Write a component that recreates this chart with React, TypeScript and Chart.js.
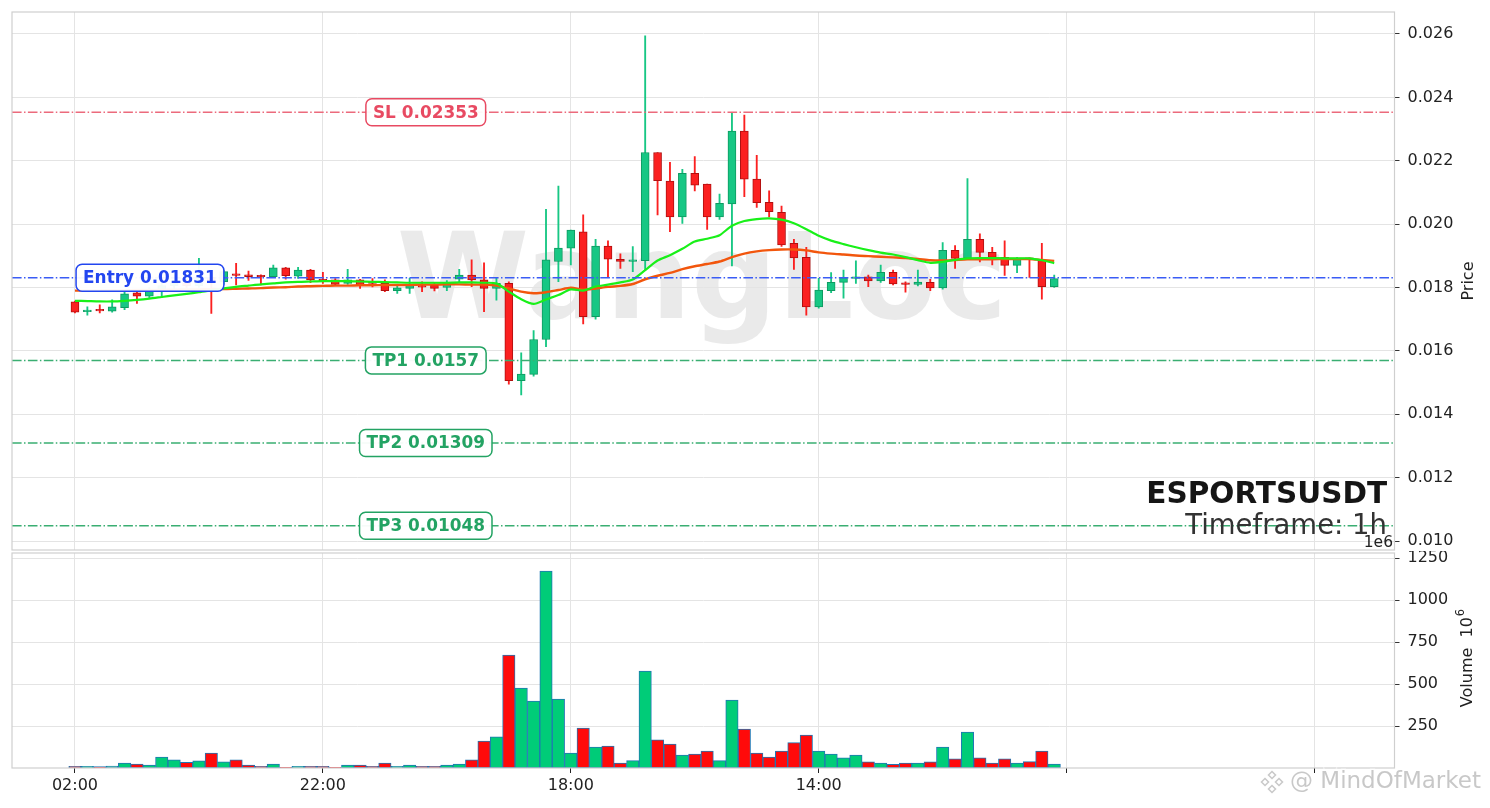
import { useEffect, useRef } from 'react';
import { Chart, registerables } from 'chart.js';

Chart.register(...registerables);

// ---------------- data ----------------
const hourLabels = ['02:00', '22:00', '18:00', '14:00', '', ''];
const hourTickIndex = [0, 20, 40, 60, 80, 100];

const opens = [
  0.01755, 0.01724, 0.01728, 0.01725, 0.01736, 0.01783, 0.01773, 0.01792, 0.01806, 0.01815,
  0.01806, 0.01832, 0.01818, 0.01840, 0.01840, 0.01837, 0.01834, 0.01862, 0.01836, 0.01855,
  0.01824, 0.01824, 0.01813, 0.01824, 0.01818, 0.01813, 0.01790, 0.01797, 0.01805, 0.01808,
  0.01800, 0.01826, 0.01839, 0.01824, 0.01797, 0.01813, 0.01506, 0.01526, 0.01636, 0.01882,
  0.01924, 0.01976, 0.01708, 0.01931, 0.01889, 0.01882, 0.01885, 0.02226, 0.02136, 0.02023,
  0.02160, 0.02126, 0.02023, 0.02064, 0.02294, 0.02142, 0.02069, 0.02037, 0.01939, 0.01895,
  0.01739, 0.01790, 0.01816, 0.01829, 0.01834, 0.01821, 0.01848, 0.01813, 0.01810, 0.01816,
  0.01799, 0.01917, 0.01892, 0.01952, 0.01911, 0.01895, 0.01870, 0.01892, 0.01887, 0.01803,
];
const highs = [
  0.01757, 0.01739, 0.01745, 0.01761, 0.01790, 0.01792, 0.01800, 0.01812, 0.01822, 0.01826,
  0.01892, 0.01842, 0.01855, 0.01876, 0.01852, 0.01840, 0.01871, 0.01864, 0.01864, 0.01857,
  0.01848, 0.01828, 0.01857, 0.01826, 0.01828, 0.01824, 0.01808, 0.01829, 0.01818, 0.01816,
  0.01822, 0.01857, 0.01887, 0.01878, 0.01832, 0.01818, 0.01594, 0.01664, 0.02047, 0.02120,
  0.01981, 0.02029, 0.01952, 0.01947, 0.01906, 0.01929, 0.02594, 0.02226, 0.02195, 0.02173,
  0.02213, 0.02126, 0.02095, 0.02350, 0.02344, 0.02217, 0.02105, 0.02057, 0.01952, 0.01927,
  0.01829, 0.01847, 0.01855, 0.01884, 0.01839, 0.01871, 0.01855, 0.01818, 0.01855, 0.01826,
  0.01942, 0.01932, 0.02144, 0.01969, 0.01927, 0.01947, 0.01895, 0.01894, 0.01939, 0.01839,
];
const lows = [
  0.01720, 0.01713, 0.01720, 0.01722, 0.01730, 0.01750, 0.01766, 0.01768, 0.01796, 0.01800,
  0.01800, 0.01718, 0.01810, 0.01808, 0.01822, 0.01808, 0.01832, 0.01826, 0.01829, 0.01815,
  0.01813, 0.01808, 0.01810, 0.01797, 0.01802, 0.01787, 0.01781, 0.01781, 0.01787, 0.01789,
  0.01790, 0.01818, 0.01803, 0.01724, 0.01760, 0.01495, 0.01461, 0.01520, 0.01613, 0.01818,
  0.01871, 0.01685, 0.01700, 0.01832, 0.01860, 0.01850, 0.01853, 0.02029, 0.01976, 0.02002,
  0.02105, 0.01983, 0.02015, 0.01868, 0.02087, 0.02053, 0.02023, 0.01930, 0.01857, 0.01713,
  0.01735, 0.01784, 0.01766, 0.01813, 0.01803, 0.01816, 0.01808, 0.01785, 0.01805, 0.01790,
  0.01795, 0.01860, 0.01890, 0.01881, 0.01871, 0.01838, 0.01847, 0.01832, 0.01763, 0.01800,
];
const closes = [
  0.01722, 0.01728, 0.01726, 0.01739, 0.01780, 0.01773, 0.01792, 0.01806, 0.01815, 0.01806,
  0.01832, 0.01818, 0.01850, 0.01838, 0.01834, 0.01834, 0.01862, 0.01837, 0.01855, 0.01824,
  0.01821, 0.01810, 0.01824, 0.01808, 0.01813, 0.01790, 0.01799, 0.01808, 0.01801, 0.01797,
  0.01815, 0.01839, 0.01824, 0.01797, 0.01813, 0.01506, 0.01527, 0.01636, 0.01887, 0.01924,
  0.01981, 0.01708, 0.01931, 0.01889, 0.01882, 0.01887, 0.02226, 0.02137, 0.02023, 0.02160,
  0.02123, 0.02023, 0.02066, 0.02294, 0.02142, 0.02068, 0.02039, 0.01934, 0.01893, 0.01739,
  0.01792, 0.01816, 0.01831, 0.01834, 0.01821, 0.01848, 0.01811, 0.01810, 0.01817, 0.01799,
  0.01917, 0.01892, 0.01952, 0.01911, 0.01895, 0.01870, 0.01892, 0.01889, 0.01803, 0.01828,
];
// volume in millions
const volumes = [
  10, 10, 8, 12, 30, 24, 18, 65, 48, 34,
  42, 89, 36, 48, 18, 10, 24, 4, 10, 10,
  10, 4, 18, 18, 10, 30, 10, 18, 10, 10,
  18, 24, 48, 161, 185, 673, 476, 399, 1173, 411,
  89, 238, 125, 131, 30, 44, 577, 167, 143, 77,
  83, 101, 44, 405, 232, 89, 65, 101, 151, 196,
  101, 83, 60, 77, 36, 30, 22, 30, 30, 36,
  125, 54, 214, 60, 30, 54, 30, 38, 101, 24,
];
const maFast = [
  0.01758, 0.01757, 0.01756, 0.01756, 0.01758, 0.01761, 0.01765, 0.01770, 0.01775, 0.01780,
  0.01785, 0.01791, 0.01797, 0.01802, 0.01806, 0.01810, 0.01813, 0.01816, 0.01818, 0.01819,
  0.01820, 0.01820, 0.01820, 0.01819, 0.01818, 0.01817, 0.01816, 0.01815, 0.01815, 0.01815,
  0.01815, 0.01816, 0.01816, 0.01815, 0.01813, 0.01787, 0.01763, 0.01748, 0.01762, 0.01776,
  0.01794, 0.01790, 0.01803, 0.01809, 0.01816, 0.01825, 0.01855, 0.01885, 0.01902, 0.01922,
  0.01945, 0.01954, 0.01965, 0.01995, 0.02010, 0.02016, 0.02018, 0.02014, 0.02003, 0.01984,
  0.01963, 0.01948, 0.01937, 0.01927, 0.01918, 0.01910, 0.01904, 0.01896, 0.01886, 0.01878,
  0.01881, 0.01887, 0.01892, 0.01893, 0.01893, 0.01892, 0.01892, 0.01892, 0.01886, 0.01877,
];
const maSlow = [
  0.01790, 0.01790, 0.01790, 0.01791, 0.01791, 0.01792, 0.01792, 0.01793, 0.01793, 0.01794,
  0.01794, 0.01795, 0.01795, 0.01796, 0.01797, 0.01798, 0.01800, 0.01801, 0.01803, 0.01804,
  0.01805, 0.01806, 0.01806, 0.01807, 0.01807, 0.01808, 0.01808, 0.01808, 0.01809, 0.01809,
  0.01810, 0.01810, 0.01809, 0.01809, 0.01806, 0.01797, 0.01787, 0.01782, 0.01785, 0.01792,
  0.01799, 0.01793, 0.01797, 0.01802, 0.01805, 0.01811, 0.01826, 0.01837, 0.01846, 0.01858,
  0.01867, 0.01874, 0.01882, 0.01896, 0.01907, 0.01914, 0.01918, 0.01920, 0.01920, 0.01917,
  0.01911, 0.01907, 0.01904, 0.01901, 0.01899, 0.01897, 0.01895, 0.01893, 0.01890, 0.01886,
  0.01885, 0.01887, 0.01889, 0.01889, 0.01889, 0.01890, 0.01890, 0.01890, 0.01887, 0.01884,
];
const priceTicks = [0.010, 0.012, 0.014, 0.016, 0.018, 0.020, 0.022, 0.024, 0.026];
const volumeTicks = [250, 500, 750, 1000, 1250];
const levelValues = [0.02353, 0.01831, 0.0157, 0.01309, 0.01048];
const levelTexts = ['SL 0.02353', 'Entry 0.01831', 'TP1 0.0157', 'TP2 0.01309', 'TP3 0.01048'];
const levelLabelAt = [28.3, 6.05, 28.3, 28.3, 28.3];
const symbolText = 'ESPORTSUSDT';
const timeframeText = 'Timeframe: 1h';

// ---------------- style ----------------
const FONT = "'DejaVu Sans', sans-serif";
const X_MIN = -5.08;
const X_MAX = 106.45;
const Y_MIN = 0.009716;
const Y_MAX = 0.026694;
const V_MAX = 1280;
const AXIS_W = 95.5;
const GRID = '#e4e4e4';
const FRAME = '#cfcfcf';
const UP = '#17c784';
const UP_EDGE = '#0e9a61';
const DOWN = '#fb2020';
const DOWN_EDGE = '#b01010';
const VOL_UP = '#00cc78';
const VOL_DOWN = '#ff0a0a';
const VOL_EDGE = '#1f77b4';
const levelColors = ['#e84a62', '#2346f0', '#23a363', '#23a363', '#23a363'];
const levelLineColors = ['#ec6a7c', '#3a5cf5', '#3aae72', '#3aae72', '#3aae72'];

const isUp = (i: number) => closes[i] >= opens[i];

function xAxis(withLabels: boolean, height: number) {
  return {
    type: 'linear',
    min: X_MIN,
    max: X_MAX,
    offset: false,
    bounds: 'data',
    afterBuildTicks: (s: any) => {
      s.ticks = hourTickIndex.map((v) => ({ value: v }));
    },
    afterFit: (s: any) => {
      s.height = height;
      s.paddingLeft = 0;
      s.paddingRight = 0;
    },
    grid: { offset: false, color: GRID, lineWidth: 1, drawTicks: withLabels, tickLength: 5, tickColor: '#222' },
    border: { display: false },
    ticks: {
      display: withLabels,
      autoSkip: false,
      maxRotation: 0,
      padding: 3,
      color: '#222',
      font: { family: FONT, size: 16 },
      callback: (v: any) => {
        const k = hourTickIndex.indexOf(Number(v));
        return k >= 0 ? hourLabels[k] : '';
      },
    },
  };
}

function roundRect(ctx: CanvasRenderingContext2D, x: number, y: number, w: number, h: number, r: number) {
  ctx.beginPath();
  ctx.moveTo(x + r, y);
  ctx.lineTo(x + w - r, y);
  ctx.arcTo(x + w, y, x + w, y + r, r);
  ctx.lineTo(x + w, y + h - r);
  ctx.arcTo(x + w, y + h, x + w - r, y + h, r);
  ctx.lineTo(x + r, y + h);
  ctx.arcTo(x, y + h, x, y + h - r, r);
  ctx.lineTo(x, y + r);
  ctx.arcTo(x, y, x + r, y, r);
  ctx.closePath();
}

function drawFrame(chart: any) {
  const { ctx, chartArea: a } = chart;
  ctx.save();
  ctx.strokeStyle = FRAME;
  ctx.lineWidth = 1.2;
  ctx.strokeRect(a.left, a.top, a.right - a.left, a.bottom - a.top);
  ctx.restore();
}

const pricePlugin = {
  id: 'pricePlugin',
  beforeDraw(chart: any) {
    const { ctx } = chart;
    ctx.save();
    ctx.fillStyle = 'rgba(200,200,200,0.38)';
    ctx.font = `bold 120px ${FONT}`;
    ctx.textAlign = 'center';
    ctx.textBaseline = 'alphabetic';
    ctx.fillText('WangLoc', 702, 318);
    ctx.restore();
  },
  afterDatasetsDraw(chart: any) {
    const { ctx, chartArea: a, scales } = chart;
    const xs = scales.x;
    const ys = scales.y;
    ctx.save();
    ctx.beginPath();
    ctx.rect(a.left, a.top, a.right - a.left, a.bottom - a.top);
    ctx.clip();
    levelValues.forEach((v, k) => {
      const y = ys.getPixelForValue(v);
      ctx.strokeStyle = levelLineColors[k];
      ctx.lineWidth = 1.5;
      ctx.setLineDash([9.6, 2.4, 1.5, 2.4]);
      ctx.beginPath();
      ctx.moveTo(a.left, y);
      ctx.lineTo(a.right, y);
      ctx.stroke();
    });
    ctx.setLineDash([]);
    ctx.font = `bold 16.9px ${FONT}`;
    ctx.textAlign = 'center';
    ctx.textBaseline = 'middle';
    levelValues.forEach((v, k) => {
      const y = ys.getPixelForValue(v);
      const x = xs.getPixelForValue(levelLabelAt[k]);
      const w = ctx.measureText(levelTexts[k]).width + 14;
      const h = 27;
      roundRect(ctx, x - w / 2, y - h / 2, w, h, 6);
      ctx.fillStyle = 'rgba(255,255,255,0.95)';
      ctx.fill();
      ctx.strokeStyle = levelColors[k];
      ctx.lineWidth = 1.5;
      ctx.stroke();
      ctx.fillStyle = levelColors[k];
      ctx.fillText(levelTexts[k], x, y + 1);
    });
    ctx.textAlign = 'right';
    ctx.textBaseline = 'alphabetic';
    ctx.fillStyle = '#151515';
    ctx.font = `bold 29.5px ${FONT}`;
    ctx.fillText(symbolText, 1387, 503);
    ctx.fillStyle = '#333333';
    ctx.font = `27.5px ${FONT}`;
    ctx.fillText(timeframeText, 1387, 534);
    ctx.restore();

    drawFrame(chart);

    ctx.save();
    ctx.fillStyle = '#222';
    ctx.font = `15.5px ${FONT}`;
    ctx.textAlign = 'right';
    ctx.textBaseline = 'alphabetic';
    ctx.fillText('1e6', 1393, 547);
    ctx.translate(1469, (a.top + a.bottom) / 2);
    ctx.rotate(-Math.PI / 2);
    ctx.textAlign = 'center';
    ctx.textBaseline = 'middle';
    ctx.font = `16px ${FONT}`;
    ctx.fillText('Price', 0, 0);
    ctx.restore();
  },
};

const volumePlugin = {
  id: 'volumePlugin',
  afterDatasetsDraw(chart: any) {
    const { ctx, chartArea: a } = chart;
    drawFrame(chart);
    ctx.save();
    ctx.fillStyle = '#222';
    ctx.translate(1468, (a.top + a.bottom) / 2 - 2);
    ctx.rotate(-Math.PI / 2);
    ctx.textBaseline = 'middle';
    ctx.font = `16px ${FONT}`;
    const t1 = 'Volume  10';
    const w1 = ctx.measureText(t1).width;
    ctx.font = `11.5px ${FONT}`;
    const w2 = ctx.measureText('6').width;
    const start = -(w1 + w2) / 2;
    ctx.font = `16px ${FONT}`;
    ctx.textAlign = 'left';
    ctx.fillText(t1, start, 0);
    ctx.font = `11.5px ${FONT}`;
    ctx.fillText('6', start + w1 + 1, -7);
    ctx.restore();

    ctx.save();
    const cy = 231;
    ctx.globalAlpha = 0.55;
    ctx.strokeStyle = '#9a9a9a';
    ctx.lineWidth = 1.5;
    const lx = 1272;
    const d = 7;
    [[0, -d], [-d, 0], [d, 0], [0, d]].forEach(([dx, dy]) => {
      ctx.beginPath();
      ctx.moveTo(lx + dx, cy + dy - 3.5);
      ctx.lineTo(lx + dx + 3.5, cy + dy);
      ctx.lineTo(lx + dx, cy + dy + 3.5);
      ctx.lineTo(lx + dx - 3.5, cy + dy);
      ctx.closePath();
      ctx.stroke();
    });
    ctx.font = `23px ${FONT}`;
    ctx.textAlign = 'left';
    ctx.textBaseline = 'middle';
    ctx.lineWidth = 3;
    ctx.strokeStyle = 'rgba(255,255,255,0.9)';
    ctx.strokeText('@ MindOfMarket', 1290, cy);
    ctx.fillStyle = '#9a9a9a';
    ctx.fillText('@ MindOfMarket', 1290, cy);
    ctx.restore();
  },
};

export default function App() {
  const priceRef = useRef<HTMLCanvasElement>(null);
  const volRef = useRef<HTMLCanvasElement>(null);

  useEffect(() => {
    const idx = closes.map((_, i) => i);
    const priceChart = new Chart(priceRef.current as HTMLCanvasElement, {
      type: 'bar',
      data: {
        datasets: [
          {
            type: 'line',
            data: idx.map((i) => ({ x: i, y: maFast[i] })),
            borderColor: '#19f019',
            borderWidth: 2.2,
            pointRadius: 0,
            tension: 0.25,
            order: 0,
          } as any,
          {
            type: 'line',
            data: idx.map((i) => ({ x: i, y: maSlow[i] })),
            borderColor: '#f2560d',
            borderWidth: 2.4,
            pointRadius: 0,
            tension: 0.25,
            order: 0,
          } as any,
          {
            type: 'bar',
            data: idx.map((i) => ({ x: i, y: [opens[i], closes[i]] })),
            backgroundColor: idx.map((i) => (isUp(i) ? UP : DOWN)),
            borderColor: idx.map((i) => (isUp(i) ? UP_EDGE : DOWN_EDGE)),
            borderWidth: 1,
            borderSkipped: false,
            barThickness: 8,
            minBarLength: 1.5,
            grouped: false,
            order: 1,
          } as any,
          {
            type: 'bar',
            data: idx.map((i) => ({ x: i, y: [lows[i], highs[i]] })),
            backgroundColor: idx.map((i) => (isUp(i) ? UP : DOWN)),
            borderWidth: 0,
            barThickness: 1.2,
            grouped: false,
            order: 2,
          } as any,
        ],
      },
      options: {
        responsive: false,
        animation: false,
        devicePixelRatio: 1,
        layout: { padding: { left: 12, top: 12, right: 0, bottom: 1 } },
        plugins: { legend: { display: false }, tooltip: { enabled: false } },
        scales: {
          x: xAxis(false, 0) as any,
          y: {
            type: 'linear',
            position: 'right',
            min: Y_MIN,
            max: Y_MAX,
            afterBuildTicks: (s: any) => {
              s.ticks = priceTicks.map((v) => ({ value: v }));
            },
            afterFit: (s: any) => {
              s.width = AXIS_W;
              s.paddingTop = 0;
              s.paddingBottom = 0;
            },
            grid: { color: GRID, lineWidth: 1, tickLength: 5, tickColor: '#333' },
            border: { display: false },
            ticks: {
              padding: 8,
              color: '#222',
              font: { family: FONT, size: 16 },
              callback: (v: any) => Number(v).toFixed(3),
            },
          } as any,
        },
      },
      plugins: [pricePlugin],
    });

    const volChart = new Chart(volRef.current as HTMLCanvasElement, {
      type: 'bar',
      data: {
        datasets: [
          {
            data: idx.map((i) => ({ x: i, y: volumes[i] })),
            backgroundColor: idx.map((i) => (isUp(i) ? VOL_UP : VOL_DOWN)),
            borderColor: VOL_EDGE,
            borderWidth: 1,
            borderSkipped: false,
            barThickness: 12.4,
            grouped: false,
          } as any,
        ],
      },
      options: {
        responsive: false,
        animation: false,
        devicePixelRatio: 1,
        layout: { padding: { left: 12, top: 2, right: 0, bottom: 0 } },
        plugins: { legend: { display: false }, tooltip: { enabled: false } },
        scales: {
          x: xAxis(true, 40) as any,
          y: {
            type: 'linear',
            position: 'right',
            min: 0,
            max: V_MAX,
            afterBuildTicks: (s: any) => {
              s.ticks = volumeTicks.map((v) => ({ value: v }));
            },
            afterFit: (s: any) => {
              s.width = AXIS_W;
              s.paddingTop = 0;
              s.paddingBottom = 0;
            },
            grid: { color: GRID, lineWidth: 1, tickLength: 5, tickColor: '#333' },
            border: { display: false },
            ticks: {
              padding: 8,
              color: '#222',
              font: { family: FONT, size: 16 },
              callback: (v: any) => String(v),
            },
          } as any,
        },
      },
      plugins: [volumePlugin],
    });

    return () => {
      priceChart.destroy();
      volChart.destroy();
    };
  }, []);

  return (
    <div style={{ position: 'absolute', left: 0, top: 0, width: 1490, height: 808, background: '#fff' }}>
      <canvas ref={priceRef} width={1490} height={551} style={{ position: 'absolute', left: 0, top: 0 }} />
      <canvas ref={volRef} width={1490} height={257} style={{ position: 'absolute', left: 0, top: 551 }} />
    </div>
  );
}
